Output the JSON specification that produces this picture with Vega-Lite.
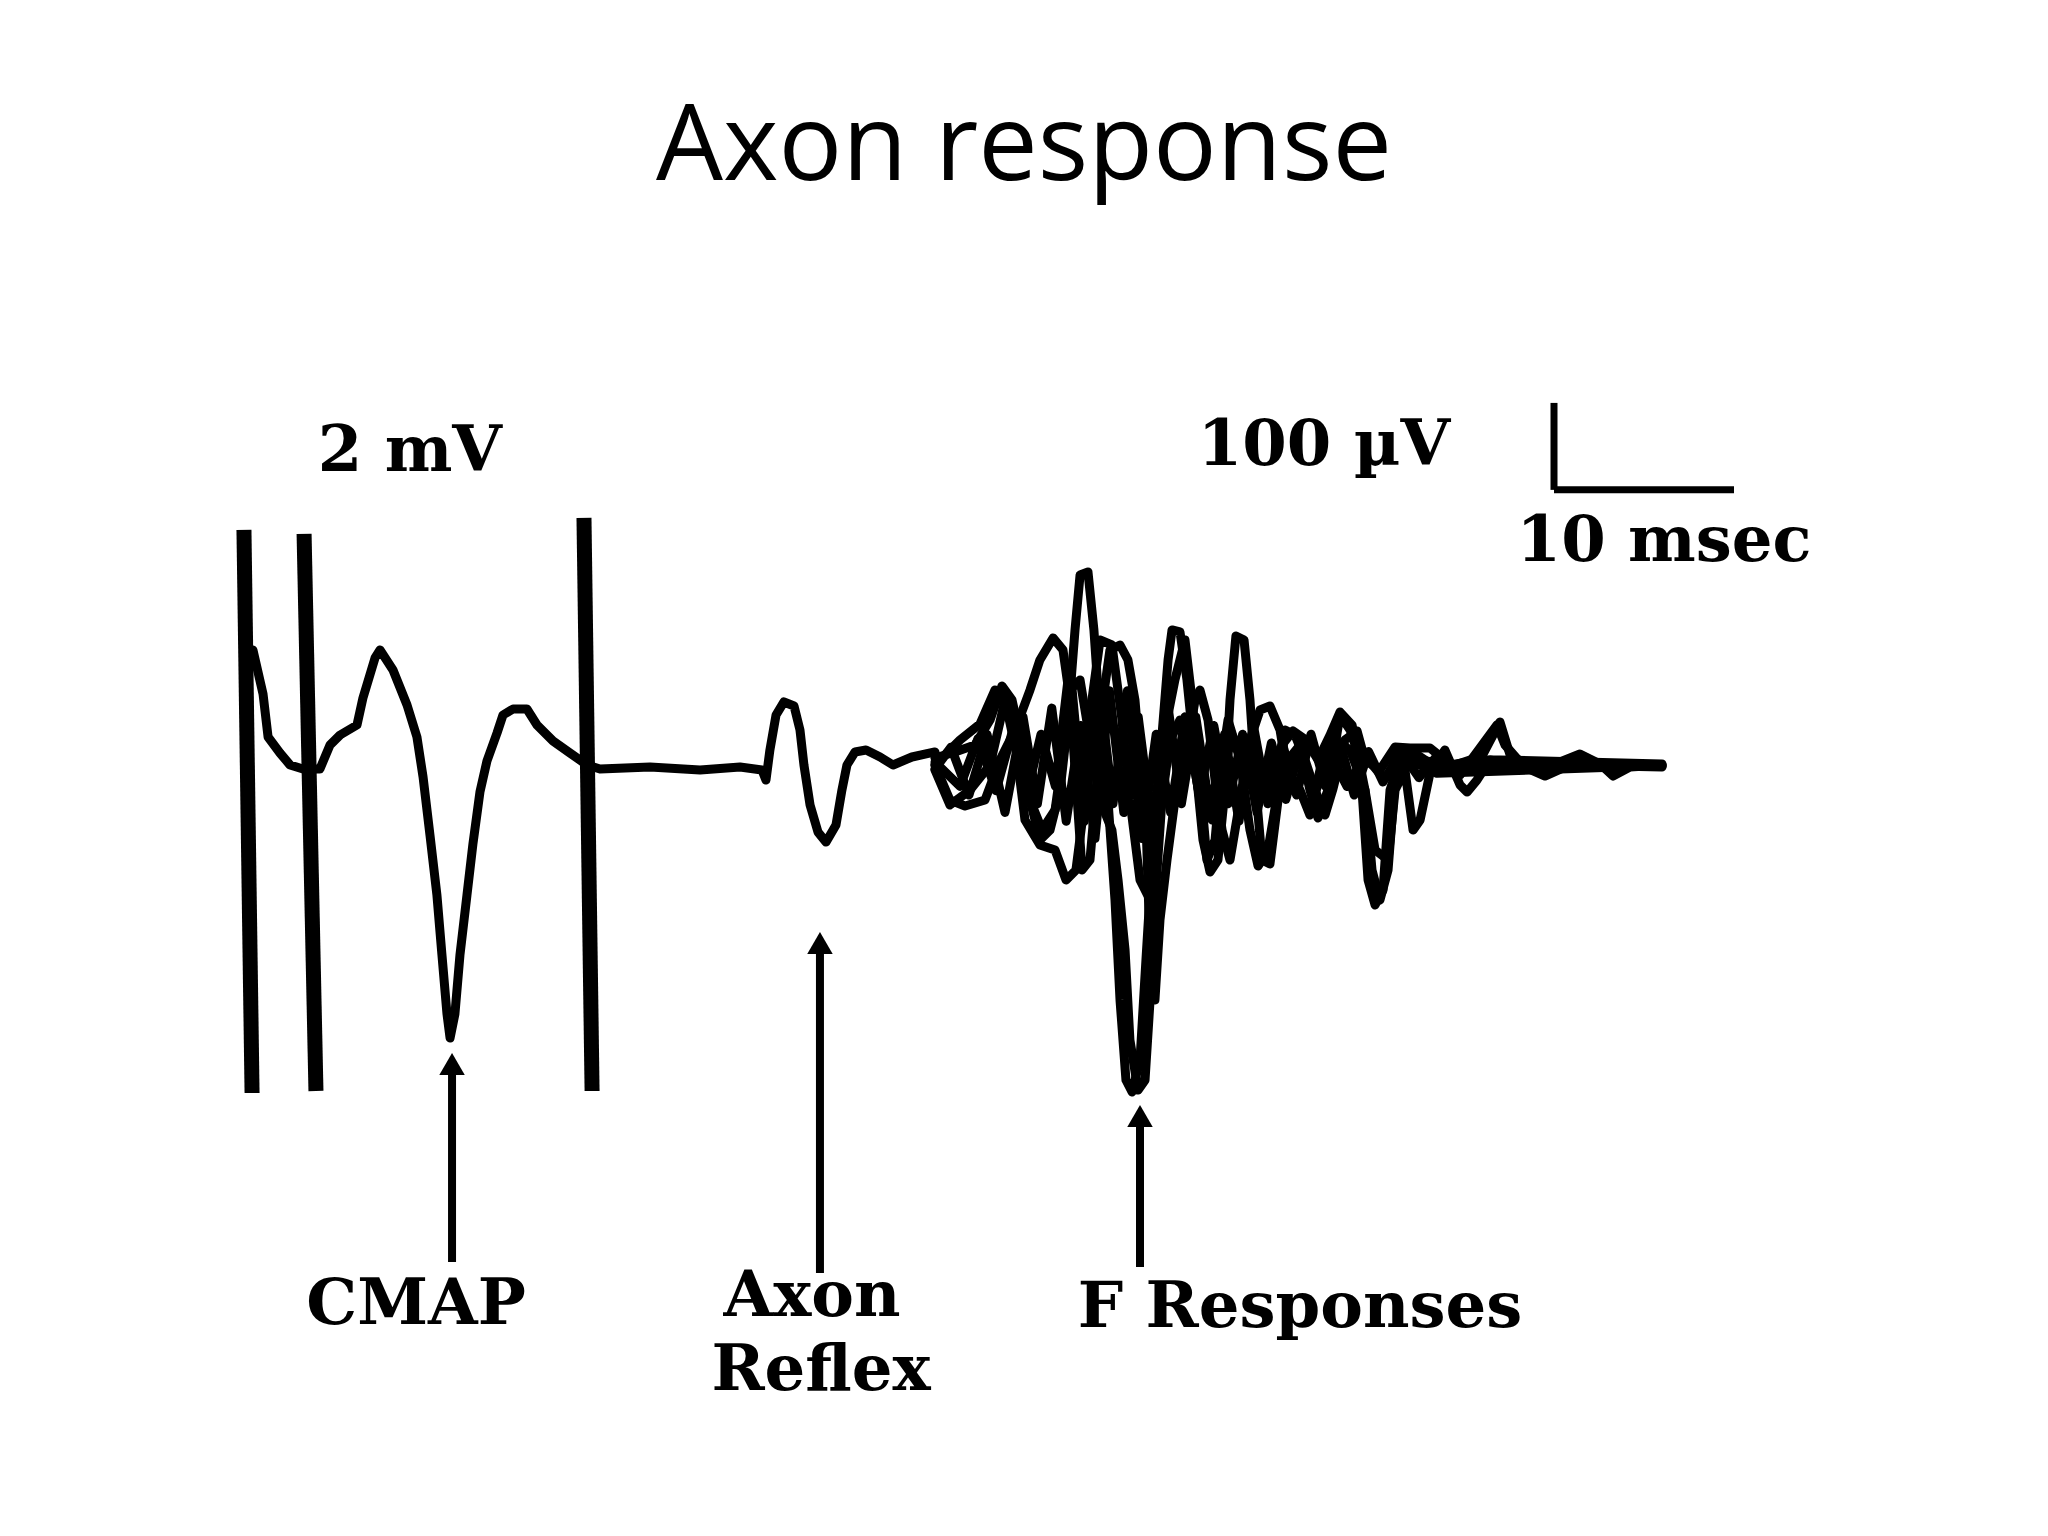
{
  "$schema": "https://vega.github.io/schema/vega-lite/v6.json",
  "width": 2048,
  "height": 1536,
  "autosize": {"type": "none"},
  "padding": 0,
  "background": "white",
  "title": {
    "text": "Axon response",
    "font": "Open Sans",
    "fontSize": 106,
    "fontWeight": "normal",
    "color": "black",
    "anchor": "middle",
    "baseline": "alphabetic",
    "offset": -286
  },
  "config": {"view": {"stroke": null}},
  "datasets": {
    "trace": [
      {"sweep": "M", "ms": 0.22, "uV": 136.9}, {"sweep": "M", "ms": 0.78, "uV": 86.3}, {"sweep": "M", "ms": 1.06, "uV": 36.8},
      {"sweep": "M", "ms": 1.72, "uV": 18.4}, {"sweep": "M", "ms": 2.28, "uV": 4.6}, {"sweep": "M", "ms": 3.0, "uV": 0},
      {"sweep": "M", "ms": 3.94, "uV": 0}, {"sweep": "M", "ms": 4.5, "uV": 27.6}, {"sweep": "M", "ms": 5.06, "uV": 39.1},
      {"sweep": "M", "ms": 6.0, "uV": 50.6}, {"sweep": "M", "ms": 6.33, "uV": 81.7}, {"sweep": "M", "ms": 7.0, "uV": 127.7},
      {"sweep": "M", "ms": 7.28, "uV": 136.9}, {"sweep": "M", "ms": 8.0, "uV": 113.9}, {"sweep": "M", "ms": 8.78, "uV": 73.6},
      {"sweep": "M", "ms": 9.33, "uV": 36.8}, {"sweep": "M", "ms": 9.67, "uV": -9.2}, {"sweep": "M", "ms": 10.06, "uV": -77.1},
      {"sweep": "M", "ms": 10.44, "uV": -144.9}, {"sweep": "M", "ms": 10.72, "uV": -213.9}, {"sweep": "M", "ms": 11.0, "uV": -281.8},
      {"sweep": "M", "ms": 11.17, "uV": -309.4}, {"sweep": "M", "ms": 11.44, "uV": -281.8}, {"sweep": "M", "ms": 11.72, "uV": -213.9},
      {"sweep": "M", "ms": 12.11, "uV": -144.9}, {"sweep": "M", "ms": 12.44, "uV": -86.3}, {"sweep": "M", "ms": 12.83, "uV": -26.5},
      {"sweep": "M", "ms": 13.22, "uV": 9.2}, {"sweep": "M", "ms": 13.78, "uV": 41.4}, {"sweep": "M", "ms": 14.11, "uV": 62.1},
      {"sweep": "M", "ms": 14.67, "uV": 69.0}, {"sweep": "M", "ms": 15.44, "uV": 69.0}, {"sweep": "M", "ms": 16.0, "uV": 50.6},
      {"sweep": "M", "ms": 16.89, "uV": 32.2}, {"sweep": "M", "ms": 17.83, "uV": 18.4}, {"sweep": "M", "ms": 18.78, "uV": 4.6},
      {"sweep": "M", "ms": 19.5, "uV": 0}, {"sweep": "M", "ms": 22.28, "uV": 2.3}, {"sweep": "M", "ms": 25.06, "uV": -1.2},
      {"sweep": "M", "ms": 27.28, "uV": 2.3}, {"sweep": "M", "ms": 28.5, "uV": -1.2}, {"sweep": "M", "ms": 28.72, "uV": -12.7},
      {"sweep": "M", "ms": 28.94, "uV": 21.9}, {"sweep": "M", "ms": 29.28, "uV": 62.1}, {"sweep": "M", "ms": 29.72, "uV": 77.1},
      {"sweep": "M", "ms": 30.28, "uV": 72.5}, {"sweep": "M", "ms": 30.61, "uV": 44.9}, {"sweep": "M", "ms": 30.83, "uV": 4.6},
      {"sweep": "M", "ms": 31.17, "uV": -41.4}, {"sweep": "M", "ms": 31.61, "uV": -72.5}, {"sweep": "M", "ms": 32.06, "uV": -84.0},
      {"sweep": "M", "ms": 32.61, "uV": -64.4}, {"sweep": "M", "ms": 32.94, "uV": -24.2}, {"sweep": "M", "ms": 33.22, "uV": 4.6},
      {"sweep": "M", "ms": 33.67, "uV": 19.6}, {"sweep": "M", "ms": 34.28, "uV": 21.9}, {"sweep": "M", "ms": 35.06, "uV": 13.8},
      {"sweep": "M", "ms": 35.78, "uV": 4.6}, {"sweep": "M", "ms": 36.83, "uV": 13.8}, {"sweep": "M", "ms": 38.11, "uV": 19.6},

      {"sweep": "A", "ms": 38.11, "uV": 12.7}, {"sweep": "A", "ms": 39.22, "uV": 19.6}, {"sweep": "A", "ms": 40.33, "uV": 27.6},
      {"sweep": "A", "ms": 41.17, "uV": 56.4}, {"sweep": "A", "ms": 41.83, "uV": 95.5}, {"sweep": "A", "ms": 42.39, "uV": 79.4},
      {"sweep": "A", "ms": 42.94, "uV": 27.6}, {"sweep": "A", "ms": 43.39, "uV": -35.7}, {"sweep": "A", "ms": 43.94, "uV": -81.7},
      {"sweep": "A", "ms": 44.5, "uV": -70.2}, {"sweep": "A", "ms": 45.06, "uV": -24.2}, {"sweep": "A", "ms": 45.5, "uV": 56.4},
      {"sweep": "A", "ms": 45.89, "uV": 159.9}, {"sweep": "A", "ms": 46.17, "uV": 223.1}, {"sweep": "A", "ms": 46.61, "uV": 226.6},
      {"sweep": "A", "ms": 46.94, "uV": 159.9}, {"sweep": "A", "ms": 47.28, "uV": 56.4}, {"sweep": "A", "ms": 47.72, "uV": -35.7},
      {"sweep": "A", "ms": 48.11, "uV": -150.7}, {"sweep": "A", "ms": 48.39, "uV": -265.7}, {"sweep": "A", "ms": 48.72, "uV": -357.7},
      {"sweep": "A", "ms": 49.06, "uV": -371.5}, {"sweep": "A", "ms": 49.5, "uV": -334.7}, {"sweep": "A", "ms": 49.83, "uV": -219.7},
      {"sweep": "A", "ms": 50.17, "uV": -104.7}, {"sweep": "A", "ms": 50.61, "uV": 10.4}, {"sweep": "A", "ms": 51.06, "uV": 125.4},
      {"sweep": "A", "ms": 51.28, "uV": 159.9}, {"sweep": "A", "ms": 51.72, "uV": 157.6}, {"sweep": "A", "ms": 52.11, "uV": 102.4},
      {"sweep": "A", "ms": 52.56, "uV": 10.4}, {"sweep": "A", "ms": 53.0, "uV": -81.7}, {"sweep": "A", "ms": 53.39, "uV": -118.5},
      {"sweep": "A", "ms": 53.83, "uV": -104.7}, {"sweep": "A", "ms": 54.22, "uV": -24.2}, {"sweep": "A", "ms": 54.5, "uV": 79.4},
      {"sweep": "A", "ms": 54.83, "uV": 153.0}, {"sweep": "A", "ms": 55.28, "uV": 148.4}, {"sweep": "A", "ms": 55.61, "uV": 79.4},
      {"sweep": "A", "ms": 55.94, "uV": -24.2}, {"sweep": "A", "ms": 56.28, "uV": -104.7}, {"sweep": "A", "ms": 56.72, "uV": -109.3},
      {"sweep": "A", "ms": 57.17, "uV": -35.7}, {"sweep": "A", "ms": 57.72, "uV": 10.4}, {"sweep": "A", "ms": 58.39, "uV": 27.6},
      {"sweep": "A", "ms": 58.94, "uV": -24.2}, {"sweep": "A", "ms": 59.39, "uV": -56.4}, {"sweep": "A", "ms": 59.94, "uV": -24.2},
      {"sweep": "A", "ms": 60.61, "uV": 62.1}, {"sweep": "A", "ms": 61.17, "uV": 44.9}, {"sweep": "A", "ms": 61.72, "uV": 10.4},
      {"sweep": "A", "ms": 62.17, "uV": -127.7}, {"sweep": "A", "ms": 62.56, "uV": -156.4}, {"sweep": "A", "ms": 63.0, "uV": -139.2},
      {"sweep": "A", "ms": 63.39, "uV": -24.2}, {"sweep": "A", "ms": 63.94, "uV": 10.4}, {"sweep": "A", "ms": 65.06, "uV": 10.4},
      {"sweep": "A", "ms": 66.72, "uV": 4.6}, {"sweep": "A", "ms": 68.39, "uV": 10.4}, {"sweep": "A", "ms": 69.5, "uV": 54.1},
      {"sweep": "A", "ms": 70.06, "uV": 16.1}, {"sweep": "A", "ms": 71.72, "uV": -3.5}, {"sweep": "A", "ms": 72.83, "uV": 8.1},
      {"sweep": "A", "ms": 73.94, "uV": 17.3}, {"sweep": "A", "ms": 75.06, "uV": 5.8}, {"sweep": "A", "ms": 75.78, "uV": -8.1},
      {"sweep": "A", "ms": 76.72, "uV": 2.3}, {"sweep": "A", "ms": 78.5, "uV": 4.6},

      {"sweep": "B", "ms": 38.11, "uV": 4.6}, {"sweep": "B", "ms": 38.94, "uV": -35.7}, {"sweep": "B", "ms": 39.78, "uV": -42.6},
      {"sweep": "B", "ms": 40.89, "uV": -35.7}, {"sweep": "B", "ms": 41.72, "uV": 10.4}, {"sweep": "B", "ms": 42.56, "uV": 44.9},
      {"sweep": "B", "ms": 43.39, "uV": 90.9}, {"sweep": "B", "ms": 43.94, "uV": 125.4}, {"sweep": "B", "ms": 44.67, "uV": 150.7},
      {"sweep": "B", "ms": 45.22, "uV": 136.9}, {"sweep": "B", "ms": 45.61, "uV": 79.4}, {"sweep": "B", "ms": 45.94, "uV": -12.7},
      {"sweep": "B", "ms": 46.28, "uV": -116.2}, {"sweep": "B", "ms": 46.72, "uV": -104.7}, {"sweep": "B", "ms": 47.11, "uV": -12.7},
      {"sweep": "B", "ms": 47.44, "uV": 79.4}, {"sweep": "B", "ms": 47.83, "uV": 136.9}, {"sweep": "B", "ms": 48.39, "uV": 142.6},
      {"sweep": "B", "ms": 48.83, "uV": 125.4}, {"sweep": "B", "ms": 49.22, "uV": 79.4}, {"sweep": "B", "ms": 49.5, "uV": 10.4},
      {"sweep": "B", "ms": 49.83, "uV": -58.7}, {"sweep": "B", "ms": 50.06, "uV": -208.2}, {"sweep": "B", "ms": 50.33, "uV": -265.7},
      {"sweep": "B", "ms": 50.61, "uV": -173.7}, {"sweep": "B", "ms": 51.0, "uV": -104.7}, {"sweep": "B", "ms": 51.44, "uV": -35.7},
      {"sweep": "B", "ms": 52.0, "uV": 10.4}, {"sweep": "B", "ms": 52.56, "uV": 79.4}, {"sweep": "B", "ms": 52.83, "uV": 90.9},
      {"sweep": "B", "ms": 53.28, "uV": 56.4}, {"sweep": "B", "ms": 53.67, "uV": -12.7}, {"sweep": "B", "ms": 54.06, "uV": -70.2},
      {"sweep": "B", "ms": 54.5, "uV": -104.7}, {"sweep": "B", "ms": 55.06, "uV": -35.7}, {"sweep": "B", "ms": 55.61, "uV": 33.4},
      {"sweep": "B", "ms": 56.17, "uV": 67.9}, {"sweep": "B", "ms": 56.72, "uV": 72.5}, {"sweep": "B", "ms": 57.28, "uV": 44.9},
      {"sweep": "B", "ms": 57.83, "uV": -24.2}, {"sweep": "B", "ms": 58.39, "uV": -24.2}, {"sweep": "B", "ms": 58.94, "uV": -52.9},
      {"sweep": "B", "ms": 59.5, "uV": -1.2}, {"sweep": "B", "ms": 60.33, "uV": 33.4}, {"sweep": "B", "ms": 61.17, "uV": 21.9},
      {"sweep": "B", "ms": 62.0, "uV": -24.2}, {"sweep": "B", "ms": 62.56, "uV": -93.2}, {"sweep": "B", "ms": 63.28, "uV": -104.7},
      {"sweep": "B", "ms": 63.67, "uV": -24.2}, {"sweep": "B", "ms": 64.22, "uV": -1.2}, {"sweep": "B", "ms": 64.67, "uV": -70.2},
      {"sweep": "B", "ms": 65.06, "uV": -58.7}, {"sweep": "B", "ms": 65.61, "uV": -4.6}, {"sweep": "B", "ms": 66.44, "uV": 21.9},
      {"sweep": "B", "ms": 67.28, "uV": -18.4}, {"sweep": "B", "ms": 67.67, "uV": -26.5}, {"sweep": "B", "ms": 68.22, "uV": -12.7},
      {"sweep": "B", "ms": 68.94, "uV": 10.4}, {"sweep": "B", "ms": 70.61, "uV": 4.6}, {"sweep": "B", "ms": 72.0, "uV": -8.1},
      {"sweep": "B", "ms": 73.39, "uV": 4.6}, {"sweep": "B", "ms": 78.5, "uV": 2.3},

      {"sweep": "C", "ms": 38.11, "uV": -1.2}, {"sweep": "C", "ms": 38.94, "uV": -41.4}, {"sweep": "C", "ms": 40.06, "uV": -24.2},
      {"sweep": "C", "ms": 41.17, "uV": 4.6}, {"sweep": "C", "ms": 42.0, "uV": 79.4}, {"sweep": "C", "ms": 42.56, "uV": 33.4},
      {"sweep": "C", "ms": 43.11, "uV": -58.7}, {"sweep": "C", "ms": 43.94, "uV": -87.4}, {"sweep": "C", "ms": 44.78, "uV": -93.2},
      {"sweep": "C", "ms": 45.39, "uV": -127.7}, {"sweep": "C", "ms": 45.94, "uV": -116.2}, {"sweep": "C", "ms": 46.44, "uV": -35.7},
      {"sweep": "C", "ms": 46.83, "uV": 79.4}, {"sweep": "C", "ms": 47.28, "uV": 148.4}, {"sweep": "C", "ms": 47.94, "uV": 142.6},
      {"sweep": "C", "ms": 48.5, "uV": 56.4}, {"sweep": "C", "ms": 48.94, "uV": -35.7}, {"sweep": "C", "ms": 49.5, "uV": -127.7},
      {"sweep": "C", "ms": 50.06, "uV": -150.7}, {"sweep": "C", "ms": 50.5, "uV": -58.7}, {"sweep": "C", "ms": 50.89, "uV": 44.9},
      {"sweep": "C", "ms": 51.44, "uV": 102.4}, {"sweep": "C", "ms": 52.0, "uV": 148.4}, {"sweep": "C", "ms": 52.39, "uV": 79.4},
      {"sweep": "C", "ms": 52.83, "uV": -12.7}, {"sweep": "C", "ms": 53.22, "uV": -104.7}, {"sweep": "C", "ms": 53.67, "uV": -81.7},
      {"sweep": "C", "ms": 54.06, "uV": 10.4}, {"sweep": "C", "ms": 54.39, "uV": 56.4}, {"sweep": "C", "ms": 55.06, "uV": 10.4},
      {"sweep": "C", "ms": 55.61, "uV": -70.2}, {"sweep": "C", "ms": 56.06, "uV": -111.6}, {"sweep": "C", "ms": 56.61, "uV": -93.2},
      {"sweep": "C", "ms": 57.17, "uV": -24.2}, {"sweep": "C", "ms": 57.56, "uV": 44.9}, {"sweep": "C", "ms": 58.11, "uV": 39.1},
      {"sweep": "C", "ms": 58.67, "uV": 10.4}, {"sweep": "C", "ms": 59.22, "uV": -24.2}, {"sweep": "C", "ms": 59.78, "uV": -52.9},
      {"sweep": "C", "ms": 60.22, "uV": -23.0}, {"sweep": "C", "ms": 60.89, "uV": 33.4}, {"sweep": "C", "ms": 61.56, "uV": 43.7},
      {"sweep": "C", "ms": 62.0, "uV": 10.4}, {"sweep": "C", "ms": 62.83, "uV": -1.2}, {"sweep": "C", "ms": 63.67, "uV": 25.3},
      {"sweep": "C", "ms": 64.5, "uV": 24.2}, {"sweep": "C", "ms": 65.61, "uV": 24.2}, {"sweep": "C", "ms": 66.44, "uV": 10.4},
      {"sweep": "C", "ms": 67.28, "uV": -6.9}, {"sweep": "C", "ms": 68.39, "uV": 24.2}, {"sweep": "C", "ms": 69.33, "uV": 50.6},
      {"sweep": "C", "ms": 69.78, "uV": 27.6}, {"sweep": "C", "ms": 70.61, "uV": 8.1}, {"sweep": "C", "ms": 72.83, "uV": 4.6},
      {"sweep": "C", "ms": 78.5, "uV": 4.6},

      {"sweep": "D", "ms": 38.11, "uV": 4.6}, {"sweep": "D", "ms": 39.5, "uV": 33.4}, {"sweep": "D", "ms": 40.61, "uV": 51.8},
      {"sweep": "D", "ms": 41.44, "uV": 90.9}, {"sweep": "D", "ms": 42.0, "uV": 79.4}, {"sweep": "D", "ms": 42.72, "uV": 10.4},
      {"sweep": "D", "ms": 43.39, "uV": -35.7}, {"sweep": "D", "ms": 44.06, "uV": -70.2}, {"sweep": "D", "ms": 44.78, "uV": -47.2},
      {"sweep": "D", "ms": 45.17, "uV": 10.4}, {"sweep": "D", "ms": 45.61, "uV": 90.9}, {"sweep": "D", "ms": 46.17, "uV": 102.4},
      {"sweep": "D", "ms": 46.72, "uV": 33.4}, {"sweep": "D", "ms": 47.28, "uV": -35.7}, {"sweep": "D", "ms": 47.94, "uV": -70.2},
      {"sweep": "D", "ms": 48.28, "uV": -127.7}, {"sweep": "D", "ms": 48.67, "uV": -208.2}, {"sweep": "D", "ms": 48.94, "uV": -311.7},
      {"sweep": "D", "ms": 49.39, "uV": -369.2}, {"sweep": "D", "ms": 49.78, "uV": -357.7}, {"sweep": "D", "ms": 50.06, "uV": -265.7},
      {"sweep": "D", "ms": 50.33, "uV": -150.7}, {"sweep": "D", "ms": 50.72, "uV": -35.7}, {"sweep": "D", "ms": 51.17, "uV": 33.4},
      {"sweep": "D", "ms": 51.72, "uV": 56.4}, {"sweep": "D", "ms": 52.28, "uV": 33.4}, {"sweep": "D", "ms": 52.83, "uV": -35.7},
      {"sweep": "D", "ms": 53.5, "uV": -58.7}, {"sweep": "D", "ms": 54.06, "uV": -12.7}, {"sweep": "D", "ms": 54.61, "uV": 39.1},
      {"sweep": "D", "ms": 55.33, "uV": 10.4}, {"sweep": "D", "ms": 56.06, "uV": -24.2}, {"sweep": "D", "ms": 56.72, "uV": -12.7},
      {"sweep": "D", "ms": 57.39, "uV": 27.6}, {"sweep": "D", "ms": 58.0, "uV": 43.7}, {"sweep": "D", "ms": 58.72, "uV": 33.4},
      {"sweep": "D", "ms": 59.39, "uV": 10.4}, {"sweep": "D", "ms": 60.06, "uV": 39.1}, {"sweep": "D", "ms": 60.61, "uV": 65.6},
      {"sweep": "D", "ms": 61.28, "uV": 50.6}, {"sweep": "D", "ms": 62.0, "uV": -24.2}, {"sweep": "D", "ms": 62.39, "uV": -116.2},
      {"sweep": "D", "ms": 62.83, "uV": -150.7}, {"sweep": "D", "ms": 63.28, "uV": -116.2}, {"sweep": "D", "ms": 63.67, "uV": -12.7},
      {"sweep": "D", "ms": 64.5, "uV": 21.9}, {"sweep": "D", "ms": 66.17, "uV": -1.2}, {"sweep": "D", "ms": 67.83, "uV": 10.4},
      {"sweep": "D", "ms": 69.5, "uV": 10.4}, {"sweep": "D", "ms": 78.5, "uV": 5.8},

      {"sweep": "E", "ms": 38.11, "uV": 0}, {"sweep": "E", "ms": 39.0, "uV": 25}, {"sweep": "E", "ms": 40.0, "uV": -30},
      {"sweep": "E", "ms": 41.0, "uV": 40}, {"sweep": "E", "ms": 42.0, "uV": -50}, {"sweep": "E", "ms": 43.0, "uV": 60},
      {"sweep": "E", "ms": 43.8, "uV": -40}, {"sweep": "E", "ms": 44.6, "uV": 70}, {"sweep": "E", "ms": 45.4, "uV": -60},
      {"sweep": "E", "ms": 46.2, "uV": 50}, {"sweep": "E", "ms": 47.0, "uV": -80}, {"sweep": "E", "ms": 47.8, "uV": 90},
      {"sweep": "E", "ms": 48.6, "uV": -50}, {"sweep": "E", "ms": 49.4, "uV": 60}, {"sweep": "E", "ms": 50.2, "uV": -70},
      {"sweep": "E", "ms": 51.0, "uV": 80}, {"sweep": "E", "ms": 51.8, "uV": -40}, {"sweep": "E", "ms": 52.6, "uV": 60},
      {"sweep": "E", "ms": 53.4, "uV": -50}, {"sweep": "E", "ms": 54.2, "uV": 40}, {"sweep": "E", "ms": 55.0, "uV": -60},
      {"sweep": "E", "ms": 55.8, "uV": 50}, {"sweep": "E", "ms": 56.6, "uV": -40}, {"sweep": "E", "ms": 57.4, "uV": 30},
      {"sweep": "E", "ms": 58.2, "uV": -30}, {"sweep": "E", "ms": 59.0, "uV": 40}, {"sweep": "E", "ms": 59.8, "uV": -20},
      {"sweep": "E", "ms": 60.6, "uV": 30}, {"sweep": "E", "ms": 61.4, "uV": -30}, {"sweep": "E", "ms": 62.2, "uV": 20},
      {"sweep": "E", "ms": 63.0, "uV": -15}, {"sweep": "E", "ms": 64.0, "uV": 20}, {"sweep": "E", "ms": 65.0, "uV": -10},
      {"sweep": "E", "ms": 66.0, "uV": 15}, {"sweep": "E", "ms": 67.0, "uV": -5}, {"sweep": "E", "ms": 68.0, "uV": 5},
      {"sweep": "E", "ms": 78.5, "uV": 3},

      {"sweep": "F", "ms": 38.11, "uV": 8}, {"sweep": "F", "ms": 39.5, "uV": -20}, {"sweep": "F", "ms": 40.5, "uV": 35},
      {"sweep": "F", "ms": 41.5, "uV": -25}, {"sweep": "F", "ms": 42.5, "uV": 50}, {"sweep": "F", "ms": 43.2, "uV": -30},
      {"sweep": "F", "ms": 44.0, "uV": 40}, {"sweep": "F", "ms": 44.8, "uV": -20}, {"sweep": "F", "ms": 45.6, "uV": 120},
      {"sweep": "F", "ms": 46.4, "uV": -60}, {"sweep": "F", "ms": 47.2, "uV": 100}, {"sweep": "F", "ms": 48.0, "uV": -40},
      {"sweep": "F", "ms": 48.8, "uV": 90}, {"sweep": "F", "ms": 49.6, "uV": -80}, {"sweep": "F", "ms": 50.4, "uV": 40},
      {"sweep": "F", "ms": 51.2, "uV": -50}, {"sweep": "F", "ms": 52.0, "uV": 60}, {"sweep": "F", "ms": 52.8, "uV": -30},
      {"sweep": "F", "ms": 53.6, "uV": 50}, {"sweep": "F", "ms": 54.4, "uV": -40}, {"sweep": "F", "ms": 55.2, "uV": 40},
      {"sweep": "F", "ms": 56.0, "uV": -50}, {"sweep": "F", "ms": 56.8, "uV": 30}, {"sweep": "F", "ms": 57.6, "uV": -35},
      {"sweep": "F", "ms": 58.4, "uV": 25}, {"sweep": "F", "ms": 59.2, "uV": -30}, {"sweep": "F", "ms": 60.0, "uV": 20},
      {"sweep": "F", "ms": 61.0, "uV": -20}, {"sweep": "F", "ms": 62.0, "uV": 15}, {"sweep": "F", "ms": 63.0, "uV": -10},
      {"sweep": "F", "ms": 64.5, "uV": 10}, {"sweep": "F", "ms": 66.0, "uV": -5}, {"sweep": "F", "ms": 78.5, "uV": 4}
    ],
    "artifacts": [
      {"ms": -0.28, "uV": 274.9, "ms2": 0.17, "uV2": -372.6},
      {"ms": 3.06, "uV": 270.3, "ms2": 3.72, "uV2": -370.3},
      {"ms": 18.61, "uV": 288.7, "ms2": 19.06, "uV2": -370.3}
    ],
    "scalebar": [
      {"item": "100 µV", "ms": 72.5, "uV": 321, "ms2": 72.5, "uV2": 421},
      {"item": "10 msec", "ms": 72.5, "uV": 321, "ms2": 82.5, "uV2": 321}
    ],
    "arrows": [
      {"label": "CMAP", "ms": 11.28, "head": -339.3, "foot": -567.0},
      {"label": "Axon Reflex", "ms": 31.72, "head": -200.1, "foot": -579.6},
      {"label": "F Responses", "ms": 49.5, "head": -399.1, "foot": -572.7}
    ],
    "labels": [
      {"text": "2 mV", "ms": 8.94, "uV": 342.7},
      {"text": "100 µV", "ms": 59.72, "uV": 349.6},
      {"text": "10 msec", "ms": 78.61, "uV": 239.2},
      {"text": "CMAP", "ms": 9.28, "uV": -638.3},
      {"text": "Axon", "ms": 31.28, "uV": -629.1},
      {"text": "Reflex", "ms": 31.78, "uV": -714.2},
      {"text": "F Responses", "ms": 58.39, "uV": -641.7}
    ]
  },
  "layer": [
    {
      "data": {"name": "trace"},
      "mark": {"type": "line", "color": "black", "strokeWidth": 9, "strokeJoin": "round", "strokeCap": "round"},
      "encoding": {
        "x": {"field": "ms", "type": "quantitative", "scale": {"domain": [-13.833, 99.944], "nice": false, "zero": false}, "axis": null},
        "y": {"field": "uV", "type": "quantitative", "scale": {"domain": [-882.05, 884.35], "nice": false, "zero": false}, "axis": null},
        "detail": {"field": "sweep", "type": "nominal"}
      }
    },
    {
      "data": {"name": "artifacts"},
      "mark": {"type": "rule", "color": "black", "strokeWidth": 15},
      "encoding": {
        "x": {"field": "ms", "type": "quantitative"},
        "y": {"field": "uV", "type": "quantitative"},
        "x2": {"field": "ms2"},
        "y2": {"field": "uV2"}
      }
    },
    {
      "data": {"name": "scalebar"},
      "mark": {"type": "rule", "color": "black", "strokeWidth": 7},
      "encoding": {
        "x": {"field": "ms", "type": "quantitative"},
        "y": {"field": "uV", "type": "quantitative"},
        "x2": {"field": "ms2"},
        "y2": {"field": "uV2"}
      }
    },
    {
      "data": {"name": "arrows"},
      "mark": {"type": "rule", "color": "black", "strokeWidth": 8},
      "encoding": {
        "x": {"field": "ms", "type": "quantitative"},
        "y": {"field": "head", "type": "quantitative"},
        "y2": {"field": "foot"}
      }
    },
    {
      "data": {"name": "arrows"},
      "mark": {"type": "point", "shape": "triangle-up", "filled": true, "color": "black", "size": 650, "opacity": 1},
      "encoding": {
        "x": {"field": "ms", "type": "quantitative"},
        "y": {"field": "head", "type": "quantitative"}
      }
    },
    {
      "data": {"name": "labels"},
      "mark": {"type": "text", "font": "DejaVu Serif", "fontWeight": "bold", "fontSize": 64, "color": "black", "align": "center", "baseline": "alphabetic"},
      "encoding": {
        "x": {"field": "ms", "type": "quantitative"},
        "y": {"field": "uV", "type": "quantitative"},
        "text": {"field": "text", "type": "nominal"}
      }
    }
  ]
}
